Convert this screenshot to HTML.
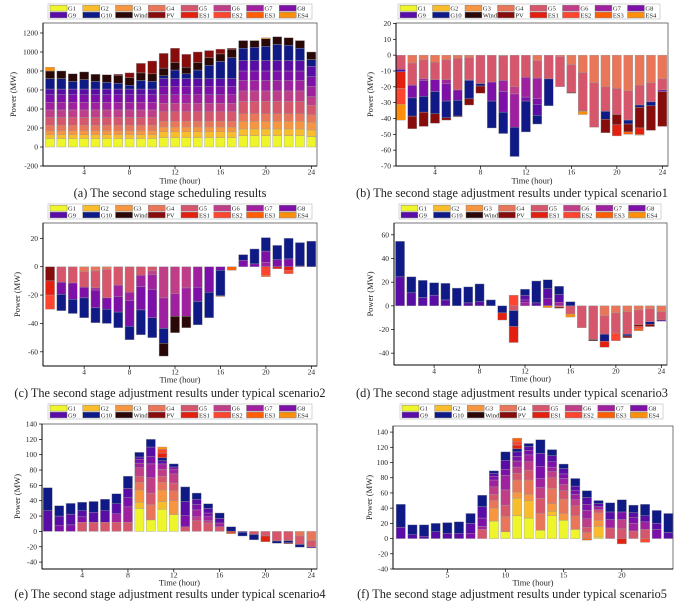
<!DOCTYPE html>
<html><head><meta charset="utf-8">
<style>
html,body{margin:0;padding:0;background:#fff;}
svg{display:block;}
text{font-family:"Liberation Serif",serif;fill:#222;}
</style></head>
<body>
<svg id="fig" width="685" height="605" viewBox="0 0 685 605" xmlns="http://www.w3.org/2000/svg"></svg>
<script>
const seriesNames = ["G1","G2","G3","G4","G5","G6","G7","G8","G9","G10","Wind","PV","ES1","ES2","ES3","ES4"];
const seriesColors = ["#eef52a","#f9bd2c","#f89540","#ea7659","#d6566c","#c03d87","#a021a0","#7d10a8","#5a0da6","#0f1a86","#2a0808","#870c0c","#e3200f","#ff4530","#ff5e05","#ff8f0a"];
const hours = [1,2,3,4,5,6,7,8,9,10,11,12,13,14,15,16,17,18,19,20,21,22,23,24];

// Panel (a)
const aG1 = [90,90,90,90,90,90,90,90,90,90,100,100,100,100,100,100,100,120,120,120,120,120,120,110];
const aG2 = [40,40,40,40,40,40,40,40,40,40,60,60,60,60,60,60,60,70,70,70,70,70,70,70];
const aG3 = [40,40,40,40,40,40,40,40,40,40,50,50,50,50,50,50,50,80,80,80,80,80,80,80];
const aG4 = [60,60,60,60,60,60,60,60,60,60,60,60,60,60,60,60,60,80,80,80,80,80,80,80];
const aG5 = [80,80,80,80,80,80,80,80,80,80,100,100,100,100,100,100,100,130,130,130,130,130,130,100];
const aG6 = [80,80,80,80,80,80,80,80,80,80,90,90,90,90,90,90,90,110,110,110,110,110,110,90];
const aG7 = [80,80,80,80,80,80,80,80,80,80,90,90,90,90,90,90,90,110,110,110,110,110,110,110];
const aG8 = [80,80,80,80,80,80,80,80,80,80,90,90,90,90,90,90,90,100,100,100,100,100,100,100];
const aG9 = [60,60,60,60,60,60,60,60,60,60,80,80,80,80,80,80,80,110,110,110,110,110,110,110];
const aG10 = [110,110,80,100,80,70,60,40,90,80,30,90,50,90,140,180,220,130,140,150,170,160,130,70];
const aWind = [80,80,80,80,75,80,85,80,80,80,80,80,70,80,80,80,90,80,70,80,80,80,80,80];
const aPV = [0,0,0,0,0,0,10,50,100,135,155,150,135,110,75,50,10,0,0,0,0,0,0,0];
const aZero = [0,0,0,0,0,0,0,0,0,0,0,0,0,0,0,0,0,0,0,0,0,0,0,0];
const aES4 = [40,0,0,0,0,0,0,0,0,0,0,0,0,0,0,0,0,0,0,10,0,0,0,0];

// Panel (b)
const bG4 = [0,-5,-3,-4.5,-3,-2,-1.5,0,0,-0.5,0,0,-3.5,0,-1,-6,-11,-17.5,-20,-21,-22.5,-19,-17.5,-15];
const bG5 = [-9,-14,-12,-11,-12.5,-20,-14,-18,-17,-15.5,-20,-14,-11,-15,-19,-17.5,-24,-28,-15.5,-16.5,-18.5,-12.5,-12,-7];
const bG6 = [0,0,0,0,0,0,0,0,0,0,-4.5,0,0,0,0,0,0,0,0,0,0,0,0,0];
const bG7 = [0,0,-1,0,-2.5,0,0,0,0,-7,-21,-12.5,-13,0,0,0,0,0,0,0,0,0,0,0];
const bG8 = [0,-8,-10,-7.5,-11,-6.5,-0.5,0,-12,-13,0,-2.5,-3.5,0,0,0,0,0,0,0,0,0,0,-1];
const bG9 = [-1.5,0,0,0,0,0,0,0,0,0,0,0,-7,0,0,0,0,0,0,0,0,0,0,0];
const bG10 = [0,-11.5,-10,-14,-10.5,-10,-11.5,-1.5,-17,-13.5,-18.5,-19.5,-5.5,-17,0,0,0,0,-5,0,-2.5,-1.5,-2.5,0];
const bPV = [0,-8,-9,-6,-1.5,-0.5,-4,-4.5,0,0,0,0,0,0,0,-0.5,-0.5,0,-8.5,-6.5,-5,-13,-15.5,-22];
const bES1 = [-10.5,0,0,0,0,0,0,0,0,0,0,0,0,0,0,0,0,0,0,-7,0,-4,0,0];
const bES2 = [-10,0,0,0,0,0,0,0,0,0,0,0,0,0,0,0,0,0,0,0,0,0,0,0];
const bES3 = [0,0,0,0,0,0,0,0,0,0,0,0,0,0,0,0,0,0,0,0,-1.5,-0.5,0,0];
const bES4 = [-10,0,0,0,0,0,0,0,0,0,0,0,0,0,0,0,-2,0,0,0,0,0,0,0];

// Panel (c)
const cG4 = [0,0,0,-3.5,-3,-2,0,0,0,0,0,0,0,0,0,0,0,0,0,0,0,0,0,0];
const cG5 = [0,-11,-11.5,-11,-12,-20,-13,-18,-6,-3,0,0,0,0,0,0,0,0,0,0,0,0,0,0];
const cG6 = [0,0,0,0,0,0,0,0,0,-2.5,-22,-19,-15,0,0,0,0,0,0,0,0,0,0,0];
const cG7 = [0,0,0,0,-1.5,0,-8,-6,-8,-10.5,-21.5,-16,-20,-14.5,0,0,0,0,0,3,0,0,0,0];
const cG8 = [0,-8.5,-11.5,-7.5,-12.5,-8,-11,-18,-16.5,-20,0,0,0,-10,-18,-2.5,0,4.5,2,8,5,5.5,0.5,0];
const cG10 = [0,-11.5,-10,-14,-10.5,-10,-11,-9.5,-17.5,-14,-10.5,0,0,-16.5,-18,-18,0,4,10.5,9.5,10,14.5,16.5,18];
const cWind = [0,0,0,0,0,0,0,0,0,0,-9,-11.5,-8,0,0,0,0,0,0,0,0,0,0,0];
const cPV = [-10,0,0,0,0,0,0,0,0,0,0,0,0,0,0,0,0,0,0,0,0,0,0,0];
const cES1 = [-10,0,0,0,0,0,0,0,0,0,0,0,0,0,0,0,0,0,0,0,-1.5,-2.5,0,0];
const cES2 = [-10,0,0,0,0,0,0,0,0,0,0,0,0,0,0,0,0,0,0,-6,0,-2.5,0,0];
const cES3 = [0,0,0,0,0,0,0,0,0,0,0,0,0,0,0,-0.5,-2.5,0,0,-1,0,0,0,0];

// Panel (d)
const dG4 = [0,0,0,0,0,0,0,0,0,0,0,0,0,0,-1,0,0,0,-8.5,-6,-5,-3.5,-2.5,-5];
const dG5 = [0,0,0,0,0,0,0,0,0,0,-4,0,0,0,0,-7,-18.5,-28.5,-15.5,-17,-19,-12.5,-11,-7];
const dG7 = [0,0,0,0,0,0,0,0,0,0,0,3,0,0,3,0,0,0,0,0,0,0,0,0];
const dG8 = [0,0,0,0,0,0,0,0,0,0,0,2,0,6,0,0,0,0,0,0,0,0,0,0];
const dG9 = [24.5,11,7,9,5,0,2.5,3.5,0,0,0,4,2.5,8.5,6.5,0,0,0,0,0,0,0,0,-1];
const dG10 = [30,13.5,14.5,10.5,14,15,13.5,15,5,-6,-13.5,5,18.5,7.5,7,3.5,0,0,-6,0,-1.5,0,-2,0];
const dWind = [0,0,0,0,0,0,0,0,0,0,0,0,0,0,0,0,0,-1,0,0,0,0,0,0];
const dPV = [0,0,0,0,0,0,0,0,0,0,0,0,0,0,-1,0,0,0,0,0,-1.5,-1.5,-2,0];
const dES1 = [0,0,0,0,0,0,0,0,0,-6,-13.5,0,0,0,0,0,0,0,-5,0,0,0,0,0];
const dES2 = [0,0,0,0,0,0,0,0,0,0,9,0,0,0,0,0,0,0,0,-6.5,0,-2,0,0];
const dES3 = [0,0,0,0,0,0,0,0,0,0,0,0,0,0,0,0,0,0,0,0,0,-1.5,0,0];
const dES4 = [0,0,0,0,0,0,0,0,0,0,0,0,0,-1.5,0,-2.5,0,0,0,0,0,0,0,0];

// Panel (e)
const eG1 = [0,0,0,0,0,0,0,0,30,15,29,22,0,0,0,0,0,0,0,0,0,0,0,0];
const eG2 = [0,0,0,0,0,0,0,0,8,0,10,0,0,0,0,0,0,0,0,0,0,0,0,0];
const eG3 = [0,0,0,0,0,0,0,0,16,0,15,18,0,0,0,0,0,0,0,0,0,0,0,0];
const eG4 = [0,0,0,0,0,0,0,0,10,20,10,13,0,0,0,0,0,0,0,0,0,0,-6,-12];
const eG5 = [0,0,0,12,12,12,12,12,8,15,8,10,6,14,11,6,0,0,-4,-6,-12.5,-12,-11,-8];
const eG6 = [0,0,0,0,0,0,0,0,11,20,9,12,0,5,3,0,0,0,0,0,0,0,0,0];
const eG7 = [0,0,0,0,0,0,11,20,6,18,7,6,0,9,5,5,0,0,0,0,0,0,0,0];
const eG8 = [0,8,8.5,7,0,0,0,12,5,10,0,3,15,7,5,0,0,0,0,0,0,0,0,0];
const eG9 = [27,12,14,8,13,15,13,12,3,12,4,0,18,7,6,6,0,-1,0,0,0,0,0,-1.5];
const eG10 = [30,13.5,14,11,14,15,13,16,6,10,4,4,19,8,6,7,6,-5,-7,0,-3,-3,-3.5,0];
const ePV = [0,0,0,0,0,0,0,0,0,0,0,0,0,0,0,0,0,0,0,0,0,-1,0,0];
const eES1 = [0,0,0,0,0,0,0,0,0,0,6,0,0,0,0,0,-2,0,0,-7.5,0,0,0,0];
const eES2 = [0,0,0,0,0,0,0,0,0,0,5,0,0,0,0,0,0,0,0,0,0,0,0,0];
const eES3 = [0,0,0,0,0,0,0,0,0,0,0,0,0,0,0,0,-1,0,0,0,0,0,0,0];
const eES4 = [0,0,0,0,0,0,0,0,0,0,3,0,0,0,0,0,0,0,0,0,0,0,0,0];

// Panel (f)
const fG1 = [0,0,0,0,0,0,0,0,23,9,30,27,11,30,24,12,0,2,0,0,0,0,0,0];
const fG2 = [0,0,0,0,0,0,0,0,0,0,23,23,0,6,0,0,0,14,0,0,0,0,0,0];
const fG3 = [0,0,0,0,0,0,0,0,17,0,8,8,0,10,9,0,0,8,0,0,0,0,0,0];
const fG4 = [0,0,0,0,0,0,0,0,10,20,16,19,22,20,19,18,8,10,0,0,0,0,0,0];
const fG5 = [0,0,0,0,0,0,0,12,8,15,9,13,20,14,11,13,7,4,14,13,10,12,0,0];
const fG6 = [0,0,0,0,0,0,0,0,10,20,8,11,14,8,8,8,11,0,0,12,0,0,0,0];
const fG7 = [0,0,0,0,0,0,0,4,9,19,8,9,12,6,8,7,11,4,11,0,10,10,0,0];
const fG8 = [0,0,0,0,0,0,7,11,5,8,6,6,16,7,6,5,8,0,0,10,8,0,12,0];
const fG9 = [15,5,3,9,7,7,13,15,4,12,6,5,17,8,7,6,9,4,10,0,6,8,8,8];
const fG10 = [30,13,15,11,14,15,13,15,3,11,4,4,18,8,6,10,9,4,12,16,10,15,17,25];
const fES1 = [0,0,0,0,0,0,0,0,0,0,5,0,0,0,0,0,0,0,0,-7,0,0,0,0];
const fES2 = [0,0,0,0,0,0,0,0,0,0,5,0,0,0,0,0,0,0,0,0,0,-5,0,0];
const fES3 = [0,0,0,0,0,0,0,0,0,0,4,0,0,0,0,0,-2,0,0,0,0,0,0,0];

// Axis tick labels
const ticksA = [-200,0,200,400,600,800,1000,1200];
const ticksB = [-70,-60,-50,-40,-30,-20,-10,0,10,20];
const ticksC = [-60,-40,-20,0,20];
const ticksD = [-40,-20,0,20,40,60];
const ticksE = [-40,-20,0,20,40,60,80,100,120,140];
const ticksF = [-40,-20,0,20,40,60,80,100,120,140];
const xTicks4 = [4,8,12,16,20,24];
const xTicks5 = [5,10,15,20];

const Z = aZero;
const panels = [
 {id:"a", fx0:43, fx1:317, fy0:23, fy1:166, ymin:-200, ymax:1305, xmin:0.38, xmax:24.5, yt:ticksA, xt:xTicks4, ylab:"Power (MW)", ylx:16, leg:[49,5,262], title:"(a) The second stage scheduling results", tx:170, ty:197, xto:16,
  data:[aG1,aG2,aG3,aG4,aG5,aG6,aG7,aG8,aG9,aG10,aWind,aPV,Z,Z,Z,aES4]},
 {id:"b", fx0:396, fx1:668, fy0:23, fy1:166, ymin:-70, ymax:20.3, xmin:0.57, xmax:24.5, yt:ticksB, xt:xTicks4, ylab:"Power (MW)", ylx:373, leg:[399,5,260], title:"(b) The second stage adjustment results under typical scenario1", tx:512, ty:197, xto:16,
  data:[Z,Z,Z,bG4,bG5,bG6,bG7,bG8,bG9,bG10,Z,bPV,bES1,bES2,bES3,bES4]},
 {id:"c", fx0:43, fx1:317, fy0:223, fy1:366, ymin:-70, ymax:30.8, xmin:0.38, xmax:24.5, yt:ticksC, xt:xTicks4, ylab:"Power (MW)", ylx:20, leg:[49,205,262], title:"(c) The second stage adjustment results under typical scenario2", tx:170, ty:397, xto:15,
  data:[Z,Z,Z,cG4,cG5,cG6,cG7,cG8,Z,cG10,cWind,cPV,cES1,cES2,cES3,Z]},
 {id:"d", fx0:394, fx1:667, fy0:223, fy1:365, ymin:-50, ymax:70, xmin:0.47, xmax:24.5, yt:ticksD, xt:xTicks4, ylab:"Power (MW)", ylx:373, leg:[400,205,260], title:"(d) The second stage adjustment results under typical scenario3", tx:512, ty:397, xto:15,
  data:[Z,Z,Z,dG4,dG5,Z,dG7,dG8,dG9,dG10,dWind,dPV,dES1,dES2,dES3,dES4]},
 {id:"e", fx0:42, fx1:317, fy0:424, fy1:569, ymin:-49, ymax:140, xmin:0.5, xmax:24.5, yt:ticksE, xt:xTicks4, ylab:"Power (MW)", ylx:20, leg:[49,405,262], title:"(e) The second stage adjustment results under typical scenario4", tx:170, ty:598, xto:15,
  data:[eG1,eG2,eG3,eG4,eG5,eG6,eG7,eG8,eG9,eG10,Z,ePV,eES1,eES2,eES3,eES4]},
 {id:"f", fx0:393, fx1:673, fy0:426, fy1:569, ymin:-40, ymax:148, xmin:0.33, xmax:24.4, yt:ticksF, xt:xTicks5, ylab:"Power (MW)", ylx:372, leg:[401,405,261], title:"(f) The second stage adjustment results under typical scenario5", tx:512, ty:598, xto:15,
  data:[fG1,fG2,fG3,fG4,fG5,fG6,fG7,fG8,fG9,fG10,Z,Z,fES1,fES2,fES3,Z]}
];

const NS = "http://www.w3.org/2000/svg";
const svg = document.getElementById("fig");
function mk(tag, attrs, parent){
  const e = document.createElementNS(NS, tag);
  for (const k in attrs) e.setAttribute(k, attrs[k]);
  (parent||svg).appendChild(e);
  return e;
}

panels.forEach(p => {
  const g = mk("g", {});
  
  
  const xs = h => p.fx0 + (h - p.xmin) / (p.xmax - p.xmin) * (p.fx1 - p.fx0);
  const ys = v => p.fy1 - (v - p.ymin) / (p.ymax - p.ymin) * (p.fy1 - p.fy0);
  const step = xs(2) - xs(1);
  const bw = step * 0.8;

  hours.forEach((h, i) => {
    let pos = 0, neg = 0;
    p.data.forEach((arr, s) => {
      const v = arr[i];
      if (!v) return;
      let y0, y1;
      if (v > 0) { y0 = pos; y1 = pos + v; pos = y1; }
      else { y0 = neg; y1 = neg + v; neg = y1; }
      const top = ys(Math.max(y0, y1)), bot = ys(Math.min(y0, y1));
      const r = mk("rect", {x: xs(h) - bw/2, y: top, width: bw, height: Math.max(0.3, bot - top), fill: seriesColors[s], stroke: "#9a9a9a", "stroke-width": 0.4}, g);
      
      
    });
  });

  const fr = mk("rect", {x: p.fx0, y: p.fy0, width: p.fx1 - p.fx0, height: p.fy1 - p.fy0, fill: "none", stroke: "#555", "stroke-width": 0.8}, g);
  
  
  mk("line", {x1: p.fx0, y1: p.fy0, x2: p.fx0, y2: p.fy1, stroke: "#000", "stroke-width": 1}, g);
  mk("line", {x1: p.fx0, y1: p.fy1, x2: p.fx1, y2: p.fy1, stroke: "#000", "stroke-width": 1}, g);

  p.yt.forEach(v => {
    const y = ys(v);
    mk("line", {x1: p.fx0 - 3, y1: y, x2: p.fx0, y2: y, stroke: "#000", "stroke-width": 0.7}, g);
    const t = mk("text", {x: p.fx0 - 5, y: y + 2.5, "font-size": 7.5, "text-anchor": "end"}, g);
    t.textContent = v;
    
    
  });
  p.xt.forEach(v => {
    const x = xs(v);
    mk("line", {x1: x, y1: p.fy1, x2: x, y2: p.fy1 + 3, stroke: "#000", "stroke-width": 0.7}, g);
    const t = mk("text", {x: x, y: p.fy1 + 8.5, "font-size": 7.5, "text-anchor": "middle"}, g);
    t.textContent = v;
    
    
  });
  const xt = mk("text", {x: (p.fx0 + p.fx1) / 2, y: p.fy1 + p.xto + 1.5, "font-size": 8.5, "text-anchor": "middle"}, g);
  xt.textContent = "Time (hour)";
  
  
  const cy = (p.fy0 + p.fy1) / 2;
  const yt = mk("text", {x: p.ylx, y: cy, "font-size": 8.5, "text-anchor": "middle", transform: "rotate(-90 " + p.ylx + " " + cy + ")"}, g);
  yt.textContent = p.ylab;
  
  

  const [lx, ly, lw] = p.leg;
  const lg = mk("g", {}, g);
  
  
  mk("rect", {x: lx - 1, y: ly - 1, width: lw + 2, height: 15, fill: "#fff", stroke: "#bbb", "stroke-width": 0.6}, lg);
  const ew = lw / 8;
  seriesNames.forEach((n, s) => {
    const col = s % 8, row = Math.floor(s / 8);
    const ex = lx + col * ew, ey = ly + row * 6.8;
    const e = mk("g", {}, lg);
    
    
    mk("rect", {x: ex + 1, y: ey + 0.3, width: ew * 0.52, height: 5.8, fill: seriesColors[s], stroke: "#777", "stroke-width": 0.4}, e);
    const t = mk("text", {x: ex + 1 + ew * 0.55, y: ey + 5.6, "font-size": 6.5}, e);
    t.textContent = n;
  });

  const tt = mk("text", {x: p.tx, y: p.ty, "font-size": 12.3, "text-anchor": "middle"}, g);
  tt.textContent = p.title;
  
  
});
</script>
</body></html>
